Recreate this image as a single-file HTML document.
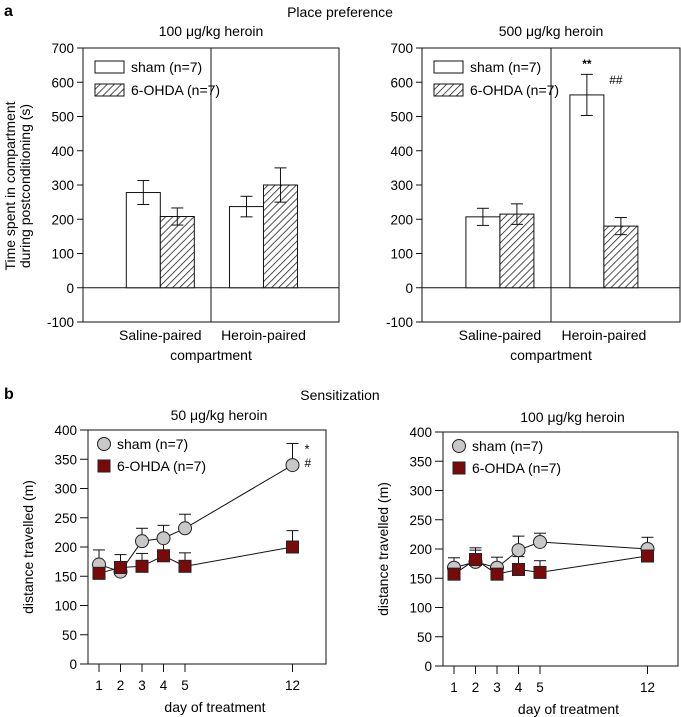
<!DOCTYPE html>
<html><head><meta charset="utf-8"><style>
body{margin:0;background:#fff;}
svg{display:block;font-family:"Liberation Sans",sans-serif;}
</style></head><body>
<svg id="fig" width="681" height="717" viewBox="0 0 681 717" xmlns="http://www.w3.org/2000/svg">
<defs>
<pattern id="hatch" patternUnits="userSpaceOnUse" width="5" height="5" patternTransform="rotate(45)">
<rect width="5" height="5" fill="#fff"/><line x1="0" y1="0" x2="0" y2="5" stroke="#222" stroke-width="1.6"/>
</pattern>
</defs>
<text x="4" y="16" font-size="16" font-weight="bold">a</text>
<text x="340" y="17" font-size="14" text-anchor="middle">Place preference</text>
<text x="4" y="399" font-size="16" font-weight="bold">b</text>
<text x="340" y="400" font-size="14" text-anchor="middle">Sensitization</text>
<g transform="translate(15,186) rotate(-90)">
<text x="0" y="0" font-size="14" text-anchor="middle">Time spent in compartment</text>
<text x="0" y="15" font-size="14" text-anchor="middle">during postconditioning (s)</text>
</g>
<g id="root"></g>
</svg>
<script>
// Panel a data
const groups = ["Saline-paired", "Heroin-paired"];
const ppLeftSham = [278, 237];
const ppLeftShamErr = [35, 30];
const ppLeftOhda = [208, 300];
const ppLeftOhdaErr = [25, 50];
const ppRightSham = [207, 563];
const ppRightShamErr = [25, 60];
const ppRightOhda = [215, 180];
const ppRightOhdaErr = [30, 25];
const ppTicks = [-100, 0, 100, 200, 300, 400, 500, 600, 700];
// Panel b data
const days = [1, 2, 3, 4, 5, 12];
const s50Sham = [170, 158, 210, 215, 232, 340];
const s50ShamErr = [25, 0, 22, 22, 24, 37];
const s50Ohda = [155, 165, 167, 185, 167, 200];
const s50OhdaErr = [0, 22, 22, 25, 23, 28];
const s100Sham = [168, 178, 168, 198, 212, 200];
const s100ShamErr = [17, 20, 18, 24, 15, 20];
const s100Ohda = [157, 182, 157, 165, 160, 188];
const s100OhdaErr = [0, 20, 0, 22, 20, 0];
const sTicks = [0, 50, 100, 150, 200, 250, 300, 350, 400];

const NS = "http://www.w3.org/2000/svg";
const root = document.getElementById("root");
function mk(tag, attrs, parent, text) {
  const e = document.createElementNS(NS, tag);
  for (const k in attrs) e.setAttribute(k, attrs[k]);
  if (text !== undefined) e.textContent = text;
  (parent || root).appendChild(e);
  return e;
}
function ln(x1, y1, x2, y2, p, w) { return mk("line", {x1, y1, x2, y2, stroke: "#111", "stroke-width": w || 1}, p); }

function barPanel(name, L, R, title, sham, shamErr, ohda, ohdaErr, stars) {
  const g = mk("g", {});
  
  
  const top = 48, bot = 322;
  const y = v => top + (700 - v) * (bot - top) / 800;
  const W = R - L, mid = L + W / 2;
  const t = mk("text", {x: mid, y: 36, "font-size": 14, "text-anchor": "middle"}, g, title);
  
  
  mk("rect", {x: L, y: top, width: W, height: bot - top, fill: "none", stroke: "#111"}, g);
  ln(mid, top, mid, bot, g);
  ln(L, y(0), R, y(0), g);
  ppTicks.forEach(v => {
    ln(L - 6, y(v), L, y(v), g);
    const tl = mk("text", {x: L - 9, y: y(v) + 5, "font-size": 13.5, "text-anchor": "end"}, g, v);
    
    
  });
  const bw = 34;
  groups.forEach((c, i) => {
    const cx = L + (i === 0 ? W * 0.302 : W * 0.705);
    const cl = mk("text", {x: cx, y: 340, "font-size": 14, "text-anchor": "middle"}, g, c);
    
    
    [[sham, shamErr, "#fff", cx - bw], [ohda, ohdaErr, "url(#hatch)", cx]].forEach(([vals, errs, fill, x0], j) => {
      const b = mk("rect", {x: x0, y: y(vals[i]), width: bw, height: y(0) - y(vals[i]), fill, stroke: "#111"}, g);
      
      
      const ex = x0 + bw / 2;
      ln(ex, y(vals[i] - errs[i]), ex, y(vals[i] + errs[i]), g);
      ln(ex - 6, y(vals[i] - errs[i]), ex + 6, y(vals[i] - errs[i]), g);
      ln(ex - 6, y(vals[i] + errs[i]), ex + 6, y(vals[i] + errs[i]), g);
    });
  });
  const ct = mk("text", {x: mid, y: 360, "font-size": 14, "text-anchor": "middle"}, g, "compartment");
  
  
  const lg = mk("g", {}, g);
  
  
  mk("rect", {x: L + 12, y: 61, width: 29, height: 12, fill: "#fff", stroke: "#111"}, lg);
  mk("text", {x: L + 48, y: 72, "font-size": 14}, lg, "sham (n=7)");
  mk("rect", {x: L + 12, y: 84, width: 29, height: 12, fill: "url(#hatch)", stroke: "#111"}, lg);
  mk("text", {x: L + 48, y: 95, "font-size": 14}, lg, "6-OHDA (n=7)");
  if (stars) {
    mk("text", {x: L + W * 0.705 - bw / 2, y: 68, "font-size": 12, "font-weight": "bold", "text-anchor": "middle"}, g, "**");
    mk("text", {x: L + W * 0.705 + 12, y: 84, "font-size": 12, "text-anchor": "middle"}, g, "##");
  }
}
barPanel("place-preference-100", 83, 339, "100 μg/kg heroin", ppLeftSham, ppLeftShamErr, ppLeftOhda, ppLeftOhdaErr, false);
barPanel("place-preference-500", 422, 680, "500 μg/kg heroin", ppRightSham, ppRightShamErr, ppRightOhda, ppRightOhdaErr, true);

function linePanel(name, L, R, top, bot, x1, dx, title, sham, shamErr, ohda, ohdaErr, stars) {
  const g = mk("g", {});
  
  
  const y = v => bot - v * (bot - top) / 400;
  const x = d => x1 + (d <= 5 ? d - 1 : d - 3) * dx;
  const tt = mk("text", {x: (L + R) / 2 + 12, y: top - 10, "font-size": 14, "text-anchor": "middle"}, g, title);
  
  
  mk("rect", {x: L, y: top, width: R - L, height: bot - top, fill: "none", stroke: "#111"}, g);
  ln(L - 8, bot, L, bot, g);
  sTicks.forEach(v => {
    ln(L - 8, y(v), L, y(v), g);
    const tl = mk("text", {x: L - 11, y: y(v) + 5, "font-size": 13.5, "text-anchor": "end"}, g, v);
    
    
  });
  days.forEach(d => {
    ln(x(d), bot, x(d), bot + 8, g);
    const tl = mk("text", {x: x(d), y: bot + 26, "font-size": 13.5, "text-anchor": "middle"}, g, d);
    
    
  });
  const xt = mk("text", {x: (L + R) / 2 + 8, y: bot + 48, "font-size": 14, "text-anchor": "middle"}, g, "day of treatment");
  
  
  const yt = mk("text", {x: 0, y: 0, "font-size": 14, "text-anchor": "middle", transform: `translate(${L - 55},${(top + bot) / 2}) rotate(-90)`}, g, "distance travelled (m)");
  
  
  [[sham, shamErr], [ohda, ohdaErr]].forEach(([vals, errs]) => {
    days.forEach((d, i) => {
      if (!errs[i]) return;
      ln(x(d), y(vals[i]), x(d), y(vals[i] + errs[i]), g);
      ln(x(d) - 6, y(vals[i] + errs[i]), x(d) + 6, y(vals[i] + errs[i]), g);
    });
  });
  const ptsS = days.map((d, i) => x(d) + "," + y(sham[i])).join(" ");
  const pS = mk("polyline", {points: ptsS, fill: "none", stroke: "#111"}, g);
  
  
  const ptsO = days.map((d, i) => x(d) + "," + y(ohda[i])).join(" ");
  const pO = mk("polyline", {points: ptsO, fill: "none", stroke: "#111"}, g);
  
  
  days.forEach((d, i) => {
    const c = mk("circle", {cx: x(d), cy: y(sham[i]), r: 6.5, fill: "#c8c8c8", stroke: "#222"}, g);
    
    
  });
  days.forEach((d, i) => {
    const s = mk("rect", {x: x(d) - 6, y: y(ohda[i]) - 6, width: 12, height: 12, fill: "#7a0a0a", stroke: "#222"}, g);
    
    
  });
  const lg = mk("g", {}, g);
  
  
  mk("circle", {cx: L + 16, cy: top + 14, r: 6.5, fill: "#c8c8c8", stroke: "#222"}, lg);
  mk("text", {x: L + 29, y: top + 19, "font-size": 14}, lg, "sham (n=7)");
  mk("rect", {x: L + 10, y: top + 30, width: 12, height: 12, fill: "#7a0a0a", stroke: "#222"}, lg);
  mk("text", {x: L + 29, y: top + 41, "font-size": 14}, lg, "6-OHDA (n=7)");
  if (stars) {
    mk("text", {x: x(12) + 12, y: y(sham[5] + shamErr[5]) + 10, "font-size": 13}, g, "*");
    mk("text", {x: x(12) + 12, y: y(sham[5]) + 2, "font-size": 12}, g, "#");
  }
}
linePanel("sensitization-50", 88, 326, 430, 664, 99, 21.5, "50 μg/kg heroin", s50Sham, s50ShamErr, s50Ohda, s50OhdaErr, true);
linePanel("sensitization-100", 443, 678, 432, 666, 454, 21.5, "100 μg/kg heroin", s100Sham, s100ShamErr, s100Ohda, s100OhdaErr, false);
</script>
</body></html>
